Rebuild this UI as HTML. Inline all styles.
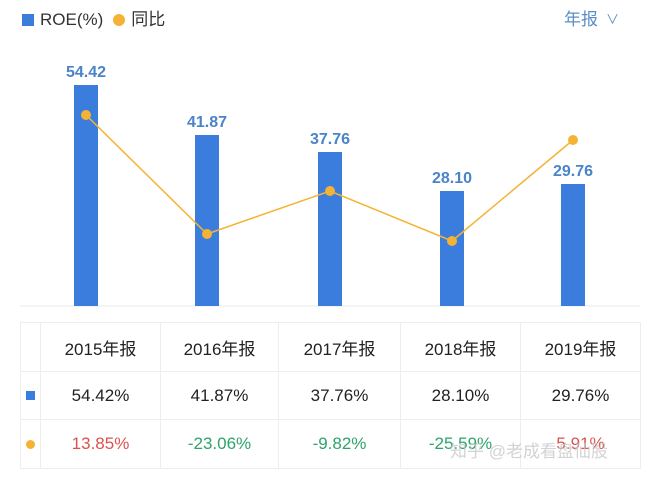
<!DOCTYPE html>
<html><head><meta charset="utf-8"><style>
body{margin:0;width:660px;height:478px;background:#fff;font-family:"Liberation Sans","Noto Sans CJK SC",sans-serif;overflow:hidden;position:relative}
.t{position:absolute;white-space:nowrap}
table{position:absolute;left:20px;top:322px;width:620px;table-layout:fixed;border-collapse:collapse;font-size:17px;color:#222}
td{border:1px solid #eee;text-align:center;padding:0}
</style></head><body>
<div style="position:absolute;left:22px;top:8px;height:24px;display:flex;align-items:center;font-size:17px;color:#333;line-height:24px">
<div style="width:12px;height:12px;background:#3b7ddd;margin-right:6px"></div><span>ROE(%)</span>
<div style="width:12px;height:12px;border-radius:50%;background:#f5b335;margin:0 6px 0 10px"></div><span>同比</span></div>
<div style="position:absolute;left:564px;top:8px;height:24px;display:flex;align-items:center;font-size:17px;color:#5b8ec9;line-height:24px"><span>年报</span><span style="font-size:13px;margin-left:8px">∨</span></div>
<svg width="660" height="320" style="position:absolute;left:0;top:0">
<line x1="20" y1="306" x2="640" y2="306" stroke="#e8e8e8"/>
<g fill="#3b7ddd">
<rect x="74" y="85" width="24" height="221"/>
<rect x="195" y="135" width="24" height="171"/>
<rect x="318" y="152" width="24" height="154"/>
<rect x="440" y="191" width="24" height="115"/>
<rect x="561" y="184" width="24" height="122"/>
</g>
<g fill="#4a84c8" font-size="16" font-weight="bold" text-anchor="middle" font-family="Liberation Sans, sans-serif">
<text x="86" y="77">54.42</text><text x="207" y="127">41.87</text><text x="330" y="144">37.76</text><text x="452" y="183">28.10</text><text x="573" y="176">29.76</text>
</g>
<polyline points="86,115 207,234 330,191 452,241 573,140" fill="none" stroke="#f5b335" stroke-width="1.5"/>
<g fill="#f5b335"><circle cx="86" cy="115" r="5"/><circle cx="207" cy="234" r="5"/><circle cx="330" cy="191" r="5"/><circle cx="452" cy="241" r="5"/><circle cx="573" cy="140" r="5"/></g>
</svg>
<table>
<colgroup><col style="width:20px"><col style="width:120px"><col style="width:118px"><col style="width:122px"><col style="width:120px"><col style="width:120px"></colgroup>
<tr style="height:49px"><td></td><td>2015年报</td><td>2016年报</td><td>2017年报</td><td>2018年报</td><td>2019年报</td></tr>
<tr style="height:48px"><td><div style="width:9px;height:9px;background:#3b7ddd;margin:auto"></div></td><td>54.42%</td><td>41.87%</td><td>37.76%</td><td>28.10%</td><td>29.76%</td></tr>
<tr style="height:49px"><td><div style="width:9px;height:9px;border-radius:50%;background:#f5b335;margin:auto"></div></td><td style="color:#d9534f">13.85%</td><td style="color:#2ea36a">-23.06%</td><td style="color:#2ea36a">-9.82%</td><td style="color:#2ea36a">-25.59%</td><td style="color:#d9534f">5.91%</td></tr>
</table>
<div class="t" style="left:450px;top:437px;font-size:17px;color:rgba(200,200,200,0.8)">知乎 @老成看盘仙股</div>
</body></html>
